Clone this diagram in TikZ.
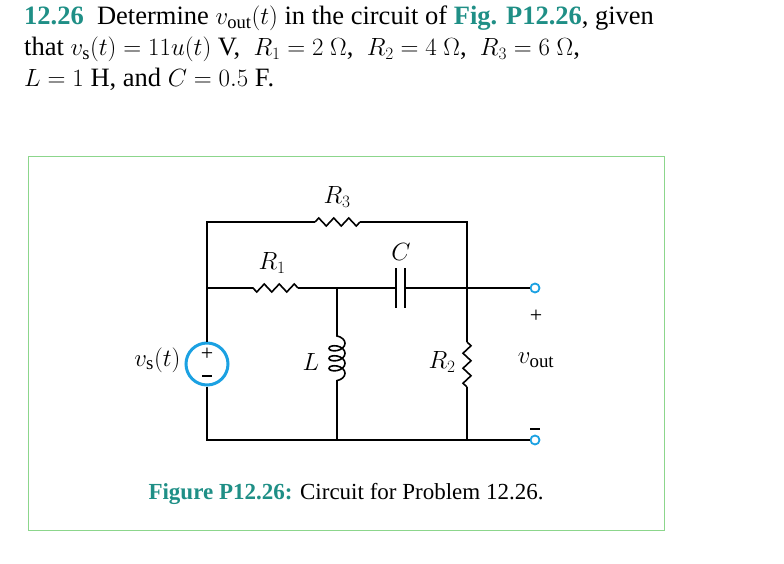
\documentclass[tikz,border=0pt]{standalone}
\usepackage{fontspec}
\setmainfont{Liberation Serif}
\usetikzlibrary{decorations.pathmorphing}
\definecolor{teal1}{HTML}{1F8F86}
\definecolor{frame}{HTML}{8CD68C}
\definecolor{cyan1}{HTML}{1BA1E2}
\tikzset{wire/.style={line width=1.6pt,black},
 lbl/.style={font=\fontsize{27}{30}\selectfont},
 term/.style={circle,draw=cyan1,line width=1.8pt,fill=white,inner sep=0pt,minimum size=9pt}}
\begin{document}
\begin{tikzpicture}[x=1pt,y=-1pt]
\useasboundingbox (0,0) rectangle (784,564);
\node[anchor=north west,align=left,font=\fontsize{26.5}{31}\selectfont,inner sep=0pt] (txt) at (24,6)
{\textcolor{teal1}{\textbf{12.26}}\enspace Determine $v_{\mathrm{out}}(t)$ in the circuit of \textcolor{teal1}{\textbf{Fig. P12.26}}, given\\
that $v_{\mathrm{s}}(t)=11u(t)$ V,\enspace $R_1=2$ $\Omega$,\enspace $R_2=4$ $\Omega$,\enspace $R_3=6$ $\Omega$,\\
$L=1$ H, and $C=0.5$ F.};
\draw[frame,line width=1pt] (28,157) rectangle (664,530);
% coordinates
\coordinate (tl) at (207,222); \coordinate (tr) at (467,222);
\coordinate (ml) at (207,288); \coordinate (mm) at (337,288); \coordinate (mr) at (467,288);
\coordinate (bl) at (207,440); \coordinate (bm) at (337,440); \coordinate (br) at (467,440);
\coordinate (r3a) at (315,222); \coordinate (r3b) at (360,222);
\coordinate (r1a) at (253,288); \coordinate (r1b) at (298,288);
\coordinate (ca) at (396,288); \coordinate (cb) at (405,288);
\coordinate (la) at (337,333); \coordinate (lb) at (337,393);
\coordinate (r2a) at (467,342); \coordinate (r2b) at (467,387);
\node[term] (tp) at (535,288) {};
\node[term] (tn) at (535,440) {};
\node[circle,draw=cyan1,line width=3pt,minimum size=42pt,inner sep=0pt] (src) at (207,364) {};
% wires
\draw[wire] (src.north) -- (ml) -- (tl) -- (r3a);
\draw[wire] (r3a) -- ++(3.75,-4) -- ++(7.5,8) -- ++(7.5,-8) -- ++(7.5,8) -- ++(7.5,-8) -- ++(7.5,8) -- (r3b);
\draw[wire] (r3b) -- (tr) -- (mr) -- (r2a);
\draw[wire] (ml) -- (r1a) -- ++(3.75,4) -- ++(7.5,-8) -- ++(7.5,8) -- ++(7.5,-8) -- ++(7.5,8) -- ++(7.5,-8) -- (r1b);
\draw[wire] (r1b) -- (mm) -- (ca); \draw[wire] (cb) -- (mr) -- (tp.west);
\draw[wire] (ca)+(0,-20) -- +(0,20); \draw[wire] (cb)+(0,-20) -- +(0,20);
\draw[wire] (mm) -- (la);
\draw[wire,decorate,decoration={coil,aspect=0.6,segment length=10pt,amplitude=8pt,pre length=3pt,post length=3pt}] (la) -- (lb);
\draw[wire] (lb) -- (bm);
\draw[wire] (r2a) -- ++(4,3.75) -- ++(-8,7.5) -- ++(8,7.5) -- ++(-8,7.5) -- ++(8,7.5) -- ++(-8,7.5) -- (r2b);
\draw[wire] (r2b) -- (br);
\draw[wire] (src.south) -- (bl) -- (bm) -- (br) -- (tn.west);
% labels
\node[font=\fontsize{22}{24}\selectfont] at (207,354) {+};
\draw[line width=1.5pt] (202,376) -- (212,376);
\node[lbl,anchor=east] at (184,360) {$v_{\mathrm{s}}(t)$};
\node[lbl] at (337,197) {$R_3$};
\node[lbl] at (272,263) {$R_1$};
\node[lbl] at (401,252) {$C$};
\node[lbl] at (311,362) {$L$};
\node[lbl] at (442,362) {$R_2$};
\node[font=\fontsize{22}{24}\selectfont] at (536,316) {+};
\node[lbl] at (536,360) {$v_{\mathrm{out}}$};
\draw[line width=1.5pt] (530,429) -- (540,429);
\node[anchor=west,font=\fontsize{23}{26}\selectfont] (cap) at (145,494) {\textcolor{teal1}{\textbf{Figure P12.26:}} Circuit for Problem 12.26.};
\end{tikzpicture}
\end{document}
